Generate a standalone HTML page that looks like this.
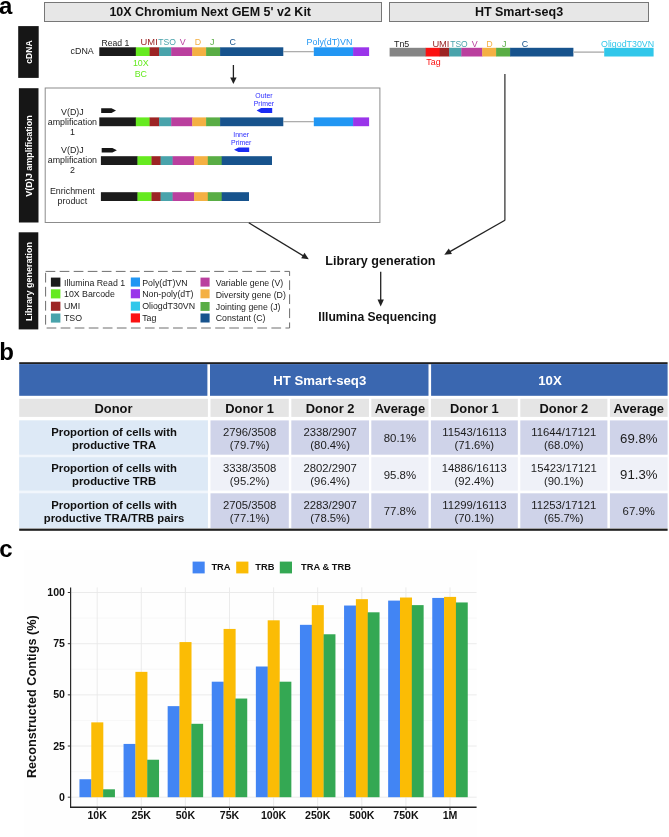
<!DOCTYPE html>
<html lang="en"><head><meta charset="utf-8"><title>Figure</title>
<style>
html,body{margin:0;padding:0;background:#fff;}
body{width:669px;height:837px;overflow:hidden;}
svg{display:block;font-family:"Liberation Sans", Arial, sans-serif;}
svg text{font-family:"Liberation Sans", Arial, sans-serif;}
</style></head><body>
<svg width="669" height="837" viewBox="0 0 669 837">
<rect x="0" y="0" width="669" height="837" fill="#ffffff"/>
<text x="-1.00" y="13.60" font-size="24" fill="#000" text-anchor="start" font-weight="bold" >a</text>
<rect x="44.50" y="2.50" width="337.00" height="19.00" fill="#e7e7e7" stroke="#777" stroke-width="1"/>
<text x="210.20" y="16.20" font-size="12.5" fill="#111" text-anchor="middle" font-weight="bold" >10X Chromium Next GEM 5' v2 Kit</text>
<rect x="389.50" y="2.50" width="259.00" height="19.00" fill="#e7e7e7" stroke="#777" stroke-width="1"/>
<text x="519.00" y="16.20" font-size="12.5" fill="#111" text-anchor="middle" font-weight="bold" >HT Smart-seq3</text>
<rect x="18.20" y="26.10" width="20.50" height="51.80" fill="#161616" />
<rect x="18.90" y="88.20" width="19.60" height="134.30" fill="#161616" />
<rect x="18.70" y="232.30" width="19.60" height="97.10" fill="#161616" />
<text transform="translate(32,52) rotate(-90)" font-size="8.6" fill="#fff" text-anchor="middle" font-weight="bold">cDNA</text>
<text transform="translate(32.0,155.9) rotate(-90)" font-size="9.0" fill="#fff" text-anchor="middle" font-weight="bold">V(D)J amplification</text>
<text transform="translate(32.2,281.5) rotate(-90)" font-size="9.0" fill="#fff" text-anchor="middle" font-weight="bold">Library generation</text>
<rect x="99.30" y="47.30" width="36.80" height="8.70" fill="#1b1b1b" />
<rect x="135.80" y="47.30" width="14.10" height="8.70" fill="#66ea20" />
<rect x="149.60" y="47.30" width="9.80" height="8.70" fill="#9c2424" />
<rect x="159.10" y="47.30" width="12.40" height="8.70" fill="#49a3ab" />
<rect x="171.20" y="47.30" width="21.30" height="8.70" fill="#ba3f9e" />
<rect x="192.20" y="47.30" width="14.20" height="8.70" fill="#f4b043" />
<rect x="206.10" y="47.30" width="14.30" height="8.70" fill="#59ad45" />
<rect x="220.10" y="47.30" width="63.20" height="8.70" fill="#17538d" />
<rect x="283.30" y="51.30" width="30.50" height="0.90" fill="#8a8a8a" />
<rect x="313.80" y="47.30" width="39.60" height="8.70" fill="#2196f3" />
<rect x="353.10" y="47.30" width="16.00" height="8.70" fill="#9a35ea" />
<text x="70.60" y="54.40" font-size="8.9" fill="#1c1c1c" text-anchor="start" font-weight="normal" >cDNA</text>
<text x="101.50" y="45.50" font-size="8.65" fill="#1c1c1c" text-anchor="start" font-weight="normal" >Read 1</text>
<text x="140.60" y="45.20" font-size="9.4" fill="#9c2424" text-anchor="start" font-weight="normal" >UMI</text>
<text x="158.20" y="45.20" font-size="8.6" fill="#49a3ab" text-anchor="start" font-weight="normal" >TSO</text>
<text x="182.70" y="45.20" font-size="8.9" fill="#ba3f9e" text-anchor="middle" font-weight="normal" >V</text>
<text x="198.00" y="45.20" font-size="8.9" fill="#f4b043" text-anchor="middle" font-weight="normal" >D</text>
<text x="212.20" y="45.20" font-size="8.9" fill="#59ad45" text-anchor="middle" font-weight="normal" >J</text>
<text x="232.70" y="45.20" font-size="8.9" fill="#17538d" text-anchor="middle" font-weight="normal" >C</text>
<text x="140.80" y="65.60" font-size="8.9" fill="#66ea20" text-anchor="middle" font-weight="normal" >10X</text>
<text x="140.80" y="76.70" font-size="8.9" fill="#66ea20" text-anchor="middle" font-weight="normal" >BC</text>
<text x="306.60" y="45.20" font-size="8.85" fill="#2196f3" text-anchor="start" font-weight="normal" >Poly(dT)VN</text>
<line x1="233.40" y1="65.00" x2="233.40" y2="78.50" stroke="#222" stroke-width="1.3"/>
<polygon points="233.40,84.00 230.20,77.50 236.60,77.50" fill="#222"/>
<rect x="389.60" y="47.80" width="36.40" height="8.70" fill="#858585" />
<rect x="425.70" y="47.80" width="14.30" height="8.70" fill="#fb1212" />
<rect x="439.70" y="47.80" width="9.70" height="8.70" fill="#9c2424" />
<rect x="449.10" y="47.80" width="12.50" height="8.70" fill="#49a3ab" />
<rect x="461.30" y="47.80" width="21.20" height="8.70" fill="#ba3f9e" />
<rect x="482.20" y="47.80" width="14.20" height="8.70" fill="#f4b043" />
<rect x="496.10" y="47.80" width="14.30" height="8.70" fill="#59ad45" />
<rect x="510.10" y="47.80" width="63.30" height="8.70" fill="#17538d" />
<rect x="573.40" y="51.30" width="30.80" height="1.70" fill="#bdbdbd" />
<rect x="604.20" y="47.80" width="49.40" height="8.70" fill="#31c7ea" />
<text x="394.00" y="46.80" font-size="8.9" fill="#1c1c1c" text-anchor="start" font-weight="normal" >Tn5</text>
<text x="432.40" y="46.80" font-size="9.3" fill="#9c2424" text-anchor="start" font-weight="normal" >UMI</text>
<text x="450.20" y="46.80" font-size="8.5" fill="#49a3ab" text-anchor="start" font-weight="normal" >TSO</text>
<text x="474.70" y="46.80" font-size="8.9" fill="#ba3f9e" text-anchor="middle" font-weight="normal" >V</text>
<text x="489.50" y="46.80" font-size="8.9" fill="#f4b043" text-anchor="middle" font-weight="normal" >D</text>
<text x="504.20" y="46.80" font-size="8.9" fill="#59ad45" text-anchor="middle" font-weight="normal" >J</text>
<text x="524.90" y="46.80" font-size="8.9" fill="#17538d" text-anchor="middle" font-weight="normal" >C</text>
<text x="426.30" y="64.80" font-size="8.85" fill="#fb1212" text-anchor="start" font-weight="normal" >Tag</text>
<text x="601.00" y="46.70" font-size="8.85" fill="#31c7ea" text-anchor="start" font-weight="normal" >OligodT30VN</text>
<rect x="45.20" y="88.00" width="334.70" height="134.50" fill="#fff" stroke="#8c8c8c" stroke-width="1"/>
<rect x="99.30" y="117.40" width="36.80" height="8.80" fill="#1b1b1b" />
<rect x="135.80" y="117.40" width="14.10" height="8.80" fill="#66ea20" />
<rect x="149.60" y="117.40" width="9.80" height="8.80" fill="#9c2424" />
<rect x="159.10" y="117.40" width="12.40" height="8.80" fill="#49a3ab" />
<rect x="171.20" y="117.40" width="21.30" height="8.80" fill="#ba3f9e" />
<rect x="192.20" y="117.40" width="14.20" height="8.80" fill="#f4b043" />
<rect x="206.10" y="117.40" width="14.30" height="8.80" fill="#59ad45" />
<rect x="220.10" y="117.40" width="63.20" height="8.80" fill="#17538d" />
<rect x="283.30" y="121.30" width="30.50" height="0.90" fill="#8a8a8a" />
<rect x="313.80" y="117.40" width="39.60" height="8.80" fill="#2196f3" />
<rect x="353.10" y="117.40" width="16.00" height="8.80" fill="#9a35ea" />
<rect x="100.90" y="156.20" width="36.90" height="8.80" fill="#1b1b1b" />
<rect x="137.50" y="156.20" width="14.30" height="8.80" fill="#66ea20" />
<rect x="151.50" y="156.20" width="9.40" height="8.80" fill="#9c2424" />
<rect x="160.60" y="156.20" width="12.30" height="8.80" fill="#49a3ab" />
<rect x="172.60" y="156.20" width="21.80" height="8.80" fill="#ba3f9e" />
<rect x="194.10" y="156.20" width="14.00" height="8.80" fill="#f4b043" />
<rect x="207.80" y="156.20" width="14.20" height="8.80" fill="#59ad45" />
<rect x="221.70" y="156.20" width="50.30" height="8.80" fill="#17538d" />
<rect x="100.90" y="192.20" width="36.90" height="8.80" fill="#1b1b1b" />
<rect x="137.50" y="192.20" width="14.30" height="8.80" fill="#66ea20" />
<rect x="151.50" y="192.20" width="9.40" height="8.80" fill="#9c2424" />
<rect x="160.60" y="192.20" width="12.30" height="8.80" fill="#49a3ab" />
<rect x="172.60" y="192.20" width="21.80" height="8.80" fill="#ba3f9e" />
<rect x="194.10" y="192.20" width="14.00" height="8.80" fill="#f4b043" />
<rect x="207.80" y="192.20" width="14.20" height="8.80" fill="#59ad45" />
<rect x="221.70" y="192.20" width="27.30" height="8.80" fill="#17538d" />
<text x="72.40" y="114.60" font-size="8.9" fill="#1c1c1c" text-anchor="middle" font-weight="normal" >V(D)J</text>
<text x="72.40" y="125.00" font-size="8.9" fill="#1c1c1c" text-anchor="middle" font-weight="normal" >amplification</text>
<text x="72.40" y="134.60" font-size="8.9" fill="#1c1c1c" text-anchor="middle" font-weight="normal" >1</text>
<text x="72.40" y="152.80" font-size="8.9" fill="#1c1c1c" text-anchor="middle" font-weight="normal" >V(D)J</text>
<text x="72.40" y="163.20" font-size="8.9" fill="#1c1c1c" text-anchor="middle" font-weight="normal" >amplification</text>
<text x="72.40" y="173.40" font-size="8.9" fill="#1c1c1c" text-anchor="middle" font-weight="normal" >2</text>
<text x="72.40" y="193.70" font-size="8.9" fill="#1c1c1c" text-anchor="middle" font-weight="normal" >Enrichment</text>
<text x="72.40" y="204.40" font-size="8.9" fill="#1c1c1c" text-anchor="middle" font-weight="normal" >product</text>
<polygon points="101.2,108.2 111.5,108.2 116.0,110.55000000000001 111.5,112.9 101.2,112.9" fill="#161616"/>
<polygon points="101.7,147.9 112.4,147.9 116.9,150.15 112.4,152.4 101.7,152.4" fill="#161616"/>
<polygon points="272.2,108.0 261.1,108.0 256.6,110.45 261.1,112.9 272.2,112.9" fill="#1a2cf5"/>
<polygon points="249.2,147.6 238.5,147.6 234.0,149.8 238.5,152.0 249.2,152.0" fill="#1a2cf5"/>
<text x="263.90" y="98.00" font-size="6.9" fill="#2a2aff" text-anchor="middle" font-weight="normal" >Outer</text>
<text x="263.90" y="105.90" font-size="6.9" fill="#2a2aff" text-anchor="middle" font-weight="normal" >Primer</text>
<text x="241.20" y="137.20" font-size="6.9" fill="#2a2aff" text-anchor="middle" font-weight="normal" >Inner</text>
<text x="241.20" y="145.40" font-size="6.9" fill="#2a2aff" text-anchor="middle" font-weight="normal" >Primer</text>
<line x1="248.80" y1="222.80" x2="303.67" y2="256.09" stroke="#222" stroke-width="1.3"/>
<polygon points="308.80,259.20 301.16,258.31 304.48,252.83" fill="#222"/>
<line x1="504.9" y1="74" x2="504.9" y2="220.6" stroke="#2a2a2a" stroke-width="1.2"/>
<line x1="504.90" y1="220.20" x2="449.51" y2="251.83" stroke="#222" stroke-width="1.3"/>
<polygon points="444.30,254.80 448.79,248.55 451.97,254.11" fill="#222"/>
<text x="380.40" y="265.10" font-size="12.55" fill="#111" text-anchor="middle" font-weight="bold" >Library generation</text>
<line x1="380.70" y1="271.70" x2="380.70" y2="300.50" stroke="#222" stroke-width="1.3"/>
<polygon points="380.70,306.50 377.50,299.50 383.90,299.50" fill="#222"/>
<text x="377.30" y="321.40" font-size="12.15" fill="#111" text-anchor="middle" font-weight="bold" >Illumina Sequencing</text>
<rect x="45.6" y="271.4" width="244.0" height="56.6" fill="none" stroke="#6e6e6e" stroke-width="1" stroke-dasharray="9.7 4.35"/>
<rect x="50.90" y="277.60" width="9.50" height="9.10" fill="#1b1b1b" />
<text x="64.00" y="285.70" font-size="8.8" fill="#1c1c1c" text-anchor="start" font-weight="normal" >Illumina Read 1</text>
<rect x="130.80" y="277.50" width="9.20" height="9.10" fill="#2196f3" />
<text x="142.20" y="286.10" font-size="8.8" fill="#1c1c1c" text-anchor="start" font-weight="normal" >Poly(dT)VN</text>
<rect x="200.50" y="277.60" width="9.10" height="9.00" fill="#ba3f9e" />
<text x="215.80" y="285.70" font-size="8.75" fill="#1c1c1c" text-anchor="start" font-weight="normal" >Variable gene (V)</text>
<rect x="50.90" y="289.30" width="9.50" height="9.10" fill="#66ea20" />
<text x="64.00" y="296.90" font-size="8.8" fill="#1c1c1c" text-anchor="start" font-weight="normal" >10X Barcode</text>
<rect x="130.80" y="289.20" width="9.20" height="9.10" fill="#9a35ea" />
<text x="142.20" y="297.20" font-size="8.8" fill="#1c1c1c" text-anchor="start" font-weight="normal" >Non-poly(dT)</text>
<rect x="200.50" y="289.30" width="9.10" height="9.00" fill="#f4b043" />
<text x="215.80" y="297.50" font-size="8.75" fill="#1c1c1c" text-anchor="start" font-weight="normal" >Diversity gene (D)</text>
<rect x="50.90" y="301.70" width="9.50" height="9.10" fill="#9c2424" />
<text x="64.00" y="309.20" font-size="8.8" fill="#1c1c1c" text-anchor="start" font-weight="normal" >UMI</text>
<rect x="130.80" y="301.60" width="9.20" height="9.10" fill="#31c7ea" />
<text x="142.20" y="309.10" font-size="8.8" fill="#1c1c1c" text-anchor="start" font-weight="normal" >OliogdT30VN</text>
<rect x="200.50" y="302.00" width="9.10" height="8.90" fill="#59ad45" />
<text x="215.80" y="309.90" font-size="8.75" fill="#1c1c1c" text-anchor="start" font-weight="normal" >Jointing gene (J)</text>
<rect x="50.90" y="313.50" width="9.50" height="9.10" fill="#49a3ab" />
<text x="64.00" y="320.60" font-size="8.8" fill="#1c1c1c" text-anchor="start" font-weight="normal" >TSO</text>
<rect x="130.80" y="313.40" width="9.20" height="9.10" fill="#fb1212" />
<text x="142.20" y="321.30" font-size="8.8" fill="#1c1c1c" text-anchor="start" font-weight="normal" >Tag</text>
<rect x="200.50" y="313.50" width="9.10" height="9.00" fill="#17538d" />
<text x="215.80" y="320.90" font-size="8.75" fill="#1c1c1c" text-anchor="start" font-weight="normal" >Constant (C)</text>
<text x="-0.80" y="359.60" font-size="24" fill="#000" text-anchor="start" font-weight="bold" >b</text>
<rect x="19.20" y="362.20" width="648.40" height="2.00" fill="#1f1f1f" />
<rect x="19.20" y="364.10" width="188.20" height="31.70" fill="#3a67b0" />
<rect x="210.00" y="364.10" width="218.50" height="31.70" fill="#3a67b0" />
<rect x="431.10" y="364.10" width="236.50" height="31.70" fill="#3a67b0" />
<text x="319.70" y="385.00" font-size="13.2" fill="#fff" text-anchor="middle" font-weight="bold" >HT Smart-seq3</text>
<text x="550.00" y="385.00" font-size="13.2" fill="#fff" text-anchor="middle" font-weight="bold" >10X</text>
<rect x="19.20" y="398.80" width="188.70" height="18.10" fill="#e5e5e5" />
<rect x="210.50" y="398.80" width="78.30" height="18.10" fill="#e5e5e5" />
<rect x="291.30" y="398.80" width="77.70" height="18.10" fill="#e5e5e5" />
<rect x="371.30" y="398.80" width="57.20" height="18.10" fill="#e5e5e5" />
<rect x="430.90" y="398.80" width="86.90" height="18.10" fill="#e5e5e5" />
<rect x="520.30" y="398.80" width="87.10" height="18.10" fill="#e5e5e5" />
<rect x="609.90" y="398.80" width="57.70" height="18.10" fill="#e5e5e5" />
<text x="113.55" y="413.20" font-size="12.9" fill="#111" text-anchor="middle" font-weight="bold" >Donor</text>
<text x="249.65" y="413.20" font-size="12.9" fill="#111" text-anchor="middle" font-weight="bold" >Donor 1</text>
<text x="330.15" y="413.20" font-size="12.9" fill="#111" text-anchor="middle" font-weight="bold" >Donor 2</text>
<text x="399.90" y="413.20" font-size="12.9" fill="#111" text-anchor="middle" font-weight="bold" >Average</text>
<text x="474.35" y="413.20" font-size="12.9" fill="#111" text-anchor="middle" font-weight="bold" >Donor 1</text>
<text x="563.85" y="413.20" font-size="12.9" fill="#111" text-anchor="middle" font-weight="bold" >Donor 2</text>
<text x="638.75" y="413.20" font-size="12.9" fill="#111" text-anchor="middle" font-weight="bold" >Average</text>
<rect x="19.20" y="420.40" width="188.70" height="107.70" fill="#f1f6fc" />
<rect x="19.20" y="420.40" width="188.70" height="34.30" fill="#dde9f6" />
<text x="114.05" y="435.75" font-size="11.3" fill="#111" text-anchor="middle" font-weight="bold" >Proportion of cells with</text>
<text x="114.05" y="448.55" font-size="11.3" fill="#111" text-anchor="middle" font-weight="bold" >productive TRA</text>
<rect x="210.50" y="420.40" width="78.30" height="34.30" fill="#cfd3e9" />
<text x="249.65" y="435.75" font-size="11.3" fill="#1c1c1c" text-anchor="middle" font-weight="normal" >2796/3508</text>
<text x="249.65" y="448.85" font-size="11.3" fill="#1c1c1c" text-anchor="middle" font-weight="normal" >(79.7%)</text>
<rect x="291.30" y="420.40" width="77.70" height="34.30" fill="#cfd3e9" />
<text x="330.15" y="435.75" font-size="11.3" fill="#1c1c1c" text-anchor="middle" font-weight="normal" >2338/2907</text>
<text x="330.15" y="448.85" font-size="11.3" fill="#1c1c1c" text-anchor="middle" font-weight="normal" >(80.4%)</text>
<rect x="371.30" y="420.40" width="57.20" height="34.30" fill="#cfd3e9" />
<text x="399.90" y="442.15" font-size="11.4" fill="#1c1c1c" text-anchor="middle" font-weight="normal" >80.1%</text>
<rect x="430.90" y="420.40" width="86.90" height="34.30" fill="#cfd3e9" />
<text x="474.35" y="435.75" font-size="11.3" fill="#1c1c1c" text-anchor="middle" font-weight="normal" >11543/16113</text>
<text x="474.35" y="448.85" font-size="11.3" fill="#1c1c1c" text-anchor="middle" font-weight="normal" >(71.6%)</text>
<rect x="520.30" y="420.40" width="87.10" height="34.30" fill="#cfd3e9" />
<text x="563.85" y="435.75" font-size="11.3" fill="#1c1c1c" text-anchor="middle" font-weight="normal" >11644/17121</text>
<text x="563.85" y="448.85" font-size="11.3" fill="#1c1c1c" text-anchor="middle" font-weight="normal" >(68.0%)</text>
<rect x="609.90" y="420.40" width="57.70" height="34.30" fill="#cfd3e9" />
<text x="638.75" y="442.55" font-size="13.2" fill="#1c1c1c" text-anchor="middle" font-weight="normal" >69.8%</text>
<rect x="19.20" y="457.20" width="188.70" height="33.40" fill="#dde9f6" />
<text x="114.05" y="472.10" font-size="11.3" fill="#111" text-anchor="middle" font-weight="bold" >Proportion of cells with</text>
<text x="114.05" y="484.90" font-size="11.3" fill="#111" text-anchor="middle" font-weight="bold" >productive TRB</text>
<rect x="210.50" y="457.20" width="78.30" height="33.40" fill="#eff1f8" />
<text x="249.65" y="472.10" font-size="11.3" fill="#1c1c1c" text-anchor="middle" font-weight="normal" >3338/3508</text>
<text x="249.65" y="485.20" font-size="11.3" fill="#1c1c1c" text-anchor="middle" font-weight="normal" >(95.2%)</text>
<rect x="291.30" y="457.20" width="77.70" height="33.40" fill="#eff1f8" />
<text x="330.15" y="472.10" font-size="11.3" fill="#1c1c1c" text-anchor="middle" font-weight="normal" >2802/2907</text>
<text x="330.15" y="485.20" font-size="11.3" fill="#1c1c1c" text-anchor="middle" font-weight="normal" >(96.4%)</text>
<rect x="371.30" y="457.20" width="57.20" height="33.40" fill="#eff1f8" />
<text x="399.90" y="478.50" font-size="11.4" fill="#1c1c1c" text-anchor="middle" font-weight="normal" >95.8%</text>
<rect x="430.90" y="457.20" width="86.90" height="33.40" fill="#eff1f8" />
<text x="474.35" y="472.10" font-size="11.3" fill="#1c1c1c" text-anchor="middle" font-weight="normal" >14886/16113</text>
<text x="474.35" y="485.20" font-size="11.3" fill="#1c1c1c" text-anchor="middle" font-weight="normal" >(92.4%)</text>
<rect x="520.30" y="457.20" width="87.10" height="33.40" fill="#eff1f8" />
<text x="563.85" y="472.10" font-size="11.3" fill="#1c1c1c" text-anchor="middle" font-weight="normal" >15423/17121</text>
<text x="563.85" y="485.20" font-size="11.3" fill="#1c1c1c" text-anchor="middle" font-weight="normal" >(90.1%)</text>
<rect x="609.90" y="457.20" width="57.70" height="33.40" fill="#eff1f8" />
<text x="638.75" y="478.90" font-size="13.2" fill="#1c1c1c" text-anchor="middle" font-weight="normal" >91.3%</text>
<rect x="19.20" y="493.30" width="188.70" height="34.80" fill="#dde9f6" />
<text x="114.05" y="508.90" font-size="11.3" fill="#111" text-anchor="middle" font-weight="bold" >Proportion of cells with</text>
<text x="114.05" y="521.70" font-size="11.3" fill="#111" text-anchor="middle" font-weight="bold" >productive TRA/TRB pairs</text>
<rect x="210.50" y="493.30" width="78.30" height="34.80" fill="#cfd3e9" />
<text x="249.65" y="508.90" font-size="11.3" fill="#1c1c1c" text-anchor="middle" font-weight="normal" >2705/3508</text>
<text x="249.65" y="522.00" font-size="11.3" fill="#1c1c1c" text-anchor="middle" font-weight="normal" >(77.1%)</text>
<rect x="291.30" y="493.30" width="77.70" height="34.80" fill="#cfd3e9" />
<text x="330.15" y="508.90" font-size="11.3" fill="#1c1c1c" text-anchor="middle" font-weight="normal" >2283/2907</text>
<text x="330.15" y="522.00" font-size="11.3" fill="#1c1c1c" text-anchor="middle" font-weight="normal" >(78.5%)</text>
<rect x="371.30" y="493.30" width="57.20" height="34.80" fill="#cfd3e9" />
<text x="399.90" y="515.30" font-size="11.4" fill="#1c1c1c" text-anchor="middle" font-weight="normal" >77.8%</text>
<rect x="430.90" y="493.30" width="86.90" height="34.80" fill="#cfd3e9" />
<text x="474.35" y="508.90" font-size="11.3" fill="#1c1c1c" text-anchor="middle" font-weight="normal" >11299/16113</text>
<text x="474.35" y="522.00" font-size="11.3" fill="#1c1c1c" text-anchor="middle" font-weight="normal" >(70.1%)</text>
<rect x="520.30" y="493.30" width="87.10" height="34.80" fill="#cfd3e9" />
<text x="563.85" y="508.90" font-size="11.3" fill="#1c1c1c" text-anchor="middle" font-weight="normal" >11253/17121</text>
<text x="563.85" y="522.00" font-size="11.3" fill="#1c1c1c" text-anchor="middle" font-weight="normal" >(65.7%)</text>
<rect x="609.90" y="493.30" width="57.70" height="34.80" fill="#cfd3e9" />
<text x="638.75" y="515.30" font-size="11.4" fill="#1c1c1c" text-anchor="middle" font-weight="normal" >67.9%</text>
<rect x="19.20" y="528.60" width="648.40" height="2.20" fill="#1f1f1f" />
<rect x="24.00" y="550.00" width="453.00" height="287.00" fill="#fefefe" />
<text x="-0.70" y="556.60" font-size="24" fill="#000" text-anchor="start" font-weight="bold" >c</text>
<line x1="70.6" x2="476.6" y1="771.61" y2="771.61" stroke="#f4f4f4" stroke-width="0.6"/>
<line x1="70.6" x2="476.6" y1="720.44" y2="720.44" stroke="#f4f4f4" stroke-width="0.6"/>
<line x1="70.6" x2="476.6" y1="669.26" y2="669.26" stroke="#f4f4f4" stroke-width="0.6"/>
<line x1="70.6" x2="476.6" y1="618.09" y2="618.09" stroke="#f4f4f4" stroke-width="0.6"/>
<line x1="70.6" x2="476.6" y1="797.20" y2="797.20" stroke="#e9e9e9" stroke-width="0.9"/>
<line x1="70.6" x2="476.6" y1="746.03" y2="746.03" stroke="#e9e9e9" stroke-width="0.9"/>
<line x1="70.6" x2="476.6" y1="694.85" y2="694.85" stroke="#e9e9e9" stroke-width="0.9"/>
<line x1="70.6" x2="476.6" y1="643.68" y2="643.68" stroke="#e9e9e9" stroke-width="0.9"/>
<line x1="70.6" x2="476.6" y1="592.50" y2="592.50" stroke="#e9e9e9" stroke-width="0.9"/>
<line x1="97.20" x2="97.20" y1="587.4" y2="807.3" stroke="#e9e9e9" stroke-width="0.9"/>
<line x1="141.30" x2="141.30" y1="587.4" y2="807.3" stroke="#e9e9e9" stroke-width="0.9"/>
<line x1="185.40" x2="185.40" y1="587.4" y2="807.3" stroke="#e9e9e9" stroke-width="0.9"/>
<line x1="229.50" x2="229.50" y1="587.4" y2="807.3" stroke="#e9e9e9" stroke-width="0.9"/>
<line x1="273.60" x2="273.60" y1="587.4" y2="807.3" stroke="#e9e9e9" stroke-width="0.9"/>
<line x1="317.70" x2="317.70" y1="587.4" y2="807.3" stroke="#e9e9e9" stroke-width="0.9"/>
<line x1="361.80" x2="361.80" y1="587.4" y2="807.3" stroke="#e9e9e9" stroke-width="0.9"/>
<line x1="405.90" x2="405.90" y1="587.4" y2="807.3" stroke="#e9e9e9" stroke-width="0.9"/>
<line x1="450.00" x2="450.00" y1="587.4" y2="807.3" stroke="#e9e9e9" stroke-width="0.9"/>
<rect x="79.45" y="779.24" width="12.03" height="17.96" fill="#4285f4" />
<rect x="91.28" y="722.36" width="12.03" height="74.84" fill="#fbbc05" />
<rect x="103.11" y="789.30" width="11.83" height="7.90" fill="#34a853" />
<rect x="123.56" y="743.92" width="12.03" height="53.28" fill="#4285f4" />
<rect x="135.39" y="671.85" width="12.03" height="125.35" fill="#fbbc05" />
<rect x="147.22" y="759.73" width="11.83" height="37.47" fill="#34a853" />
<rect x="167.66" y="706.14" width="12.03" height="91.06" fill="#4285f4" />
<rect x="179.49" y="642.08" width="12.03" height="155.12" fill="#fbbc05" />
<rect x="191.31" y="723.80" width="11.83" height="73.40" fill="#34a853" />
<rect x="211.75" y="681.70" width="12.03" height="115.50" fill="#4285f4" />
<rect x="223.59" y="628.93" width="12.03" height="168.27" fill="#fbbc05" />
<rect x="235.41" y="698.54" width="11.83" height="98.66" fill="#34a853" />
<rect x="255.86" y="666.51" width="12.03" height="130.69" fill="#4285f4" />
<rect x="267.69" y="620.31" width="12.03" height="176.89" fill="#fbbc05" />
<rect x="279.52" y="681.70" width="11.83" height="115.50" fill="#34a853" />
<rect x="299.95" y="624.83" width="12.03" height="172.37" fill="#4285f4" />
<rect x="311.78" y="605.12" width="12.03" height="192.08" fill="#fbbc05" />
<rect x="323.62" y="634.27" width="11.83" height="162.93" fill="#34a853" />
<rect x="344.06" y="605.53" width="12.03" height="191.67" fill="#4285f4" />
<rect x="355.88" y="599.16" width="12.03" height="198.04" fill="#fbbc05" />
<rect x="367.72" y="612.30" width="11.83" height="184.90" fill="#34a853" />
<rect x="388.15" y="600.60" width="12.03" height="196.60" fill="#4285f4" />
<rect x="399.98" y="597.52" width="12.03" height="199.68" fill="#fbbc05" />
<rect x="411.81" y="605.12" width="11.83" height="192.08" fill="#34a853" />
<rect x="432.25" y="597.93" width="12.03" height="199.27" fill="#4285f4" />
<rect x="444.08" y="596.90" width="12.03" height="200.30" fill="#fbbc05" />
<rect x="455.92" y="602.45" width="11.83" height="194.75" fill="#34a853" />
<line x1="70.6" x2="70.6" y1="587.4" y2="807.9" stroke="#2a2a2a" stroke-width="1.2"/>
<line x1="70.1" x2="476.6" y1="807.3" y2="807.3" stroke="#222" stroke-width="1.4"/>
<line x1="67.8" x2="70.6" y1="797.20" y2="797.20" stroke="#333" stroke-width="1"/>
<text x="65.00" y="800.80" font-size="10.6" fill="#111" text-anchor="end" font-weight="bold" >0</text>
<line x1="67.8" x2="70.6" y1="746.03" y2="746.03" stroke="#333" stroke-width="1"/>
<text x="65.00" y="749.63" font-size="10.6" fill="#111" text-anchor="end" font-weight="bold" >25</text>
<line x1="67.8" x2="70.6" y1="694.85" y2="694.85" stroke="#333" stroke-width="1"/>
<text x="65.00" y="698.45" font-size="10.6" fill="#111" text-anchor="end" font-weight="bold" >50</text>
<line x1="67.8" x2="70.6" y1="643.68" y2="643.68" stroke="#333" stroke-width="1"/>
<text x="65.00" y="647.28" font-size="10.6" fill="#111" text-anchor="end" font-weight="bold" >75</text>
<line x1="67.8" x2="70.6" y1="592.50" y2="592.50" stroke="#333" stroke-width="1"/>
<text x="65.00" y="596.10" font-size="10.6" fill="#111" text-anchor="end" font-weight="bold" >100</text>
<line x1="97.20" x2="97.20" y1="807.3" y2="810.0999999999999" stroke="#333" stroke-width="1"/>
<line x1="141.30" x2="141.30" y1="807.3" y2="810.0999999999999" stroke="#333" stroke-width="1"/>
<line x1="185.40" x2="185.40" y1="807.3" y2="810.0999999999999" stroke="#333" stroke-width="1"/>
<line x1="229.50" x2="229.50" y1="807.3" y2="810.0999999999999" stroke="#333" stroke-width="1"/>
<line x1="273.60" x2="273.60" y1="807.3" y2="810.0999999999999" stroke="#333" stroke-width="1"/>
<line x1="317.70" x2="317.70" y1="807.3" y2="810.0999999999999" stroke="#333" stroke-width="1"/>
<line x1="361.80" x2="361.80" y1="807.3" y2="810.0999999999999" stroke="#333" stroke-width="1"/>
<line x1="405.90" x2="405.90" y1="807.3" y2="810.0999999999999" stroke="#333" stroke-width="1"/>
<line x1="450.00" x2="450.00" y1="807.3" y2="810.0999999999999" stroke="#333" stroke-width="1"/>
<text x="97.20" y="818.70" font-size="10.6" fill="#111" text-anchor="middle" font-weight="bold" >10K</text>
<text x="141.30" y="818.70" font-size="10.6" fill="#111" text-anchor="middle" font-weight="bold" >25K</text>
<text x="185.40" y="818.70" font-size="10.6" fill="#111" text-anchor="middle" font-weight="bold" >50K</text>
<text x="229.50" y="818.70" font-size="10.6" fill="#111" text-anchor="middle" font-weight="bold" >75K</text>
<text x="273.60" y="818.70" font-size="10.6" fill="#111" text-anchor="middle" font-weight="bold" >100K</text>
<text x="317.70" y="818.70" font-size="10.6" fill="#111" text-anchor="middle" font-weight="bold" >250K</text>
<text x="361.80" y="818.70" font-size="10.6" fill="#111" text-anchor="middle" font-weight="bold" >500K</text>
<text x="405.90" y="818.70" font-size="10.6" fill="#111" text-anchor="middle" font-weight="bold" >750K</text>
<text x="450.00" y="818.70" font-size="10.6" fill="#111" text-anchor="middle" font-weight="bold" >1M</text>
<text transform="translate(36.3,696.7) rotate(-90)" font-size="12.7" fill="#111" text-anchor="middle" font-weight="bold">Reconstructed Contigs (%)</text>
<rect x="192.60" y="561.60" width="12.10" height="11.80" fill="#4285f4" />
<text x="211.40" y="570.10" font-size="9.3" fill="#111" text-anchor="start" font-weight="bold" >TRA</text>
<rect x="236.20" y="561.60" width="12.20" height="11.80" fill="#fbbc05" />
<text x="255.30" y="570.10" font-size="9.3" fill="#111" text-anchor="start" font-weight="bold" >TRB</text>
<rect x="279.80" y="561.60" width="12.20" height="11.80" fill="#34a853" />
<text x="301.10" y="570.10" font-size="9.3" fill="#111" text-anchor="start" font-weight="bold" >TRA &amp; TRB</text>
</svg>
</body></html>
